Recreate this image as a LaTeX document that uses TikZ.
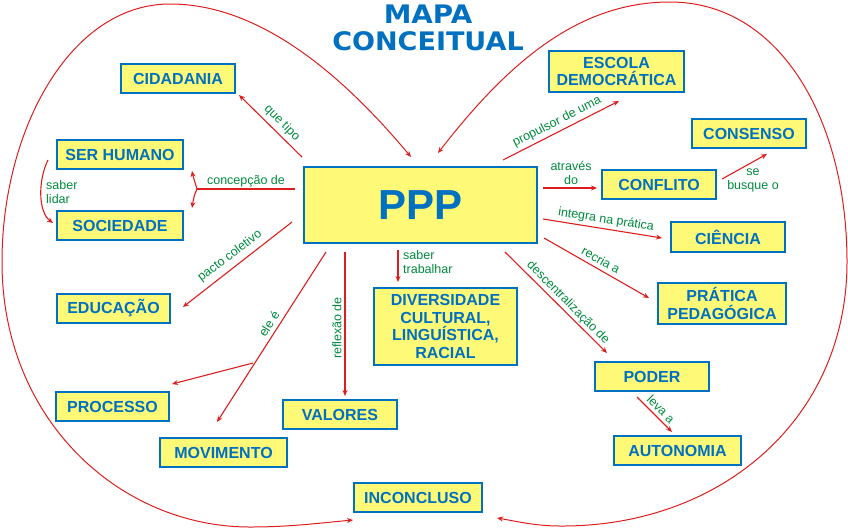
\documentclass[tikz,border=0pt]{standalone}
\usepackage{fontspec}
\usepackage{graphicx}
\setmainfont{Liberation Sans}
\newfontfamily\titlefont{DejaVu Sans}
\usetikzlibrary{arrows.meta}
\definecolor{boxfill}{RGB}{255,249,120}
\definecolor{boxblue}{RGB}{0,112,192}
\definecolor{linered}{RGB}{221,30,30}
\definecolor{lblgreen}{RGB}{0,138,62}
\begin{document}
\begin{tikzpicture}[x=1pt,y=-1pt,
  box/.style={draw=boxblue, fill=boxfill, line width=1.2pt, text=boxblue,
    font=\fontsize{16}{17.5}\selectfont\bfseries, align=center, inner sep=0pt},
  conn/.style={draw=linered, line width=1.1pt, -{Stealth[length=6pt,width=5pt]}},
  plain/.style={draw=linered, line width=1.1pt},
  loop/.style={draw=linered, line width=1pt, {Stealth[length=6pt,width=5pt]}-{Stealth[length=6pt,width=5pt]}},
  lbl/.style={text=lblgreen, font=\fontsize{12.5}{14}\selectfont, inner sep=0pt, align=center},
  ttl/.style={text=boxblue, font=\titlefont\fontsize{25.5}{27}\selectfont\bfseries, inner sep=0pt}
]
\useasboundingbox (0,0) rectangle (848,528);

% title
\node[ttl] (t1) at (428,14) {\scalebox{1.09}[1]{MAPA}};
\node[ttl] (t2) at (428,41) {\scalebox{1.06}[1]{CONCEITUAL}};

% boxes
\node[box, minimum width=114pt, minimum height=29pt] (cid) at (178,78.5) {CIDADANIA};
\node[box, minimum width=126pt, minimum height=29pt] (ser) at (120,154.5) {SER HUMANO};
\node[box, minimum width=126pt, minimum height=29pt] (soc) at (120,225.5) {SOCIEDADE};
\node[box, minimum width=233pt, minimum height=76pt, font=\fontsize{42}{44}\selectfont\bfseries] (ppp) at (420.5,205) {PPP};
\node[box, minimum width=135pt, minimum height=41pt] (esc) at (616.5,71.5) {ESCOLA\\DEMOCRÁTICA};
\node[box, minimum width=114pt, minimum height=29pt] (cons) at (749,133.5) {CONSENSO};
\node[box, minimum width=114pt, minimum height=29pt] (conf) at (659,184.5) {CONFLITO};
\node[box, minimum width=114pt, minimum height=30pt] (cie) at (728,237) {CIÊNCIA};
\node[box, minimum width=113pt, minimum height=29pt] (edu) at (113.5,308.5) {EDUCAÇÃO};
\node[box, minimum width=113pt, minimum height=29pt] (proc) at (112.5,406.5) {PROCESSO};
\node[box, minimum width=127pt, minimum height=29pt] (mov) at (223.5,452.5) {MOVIMENTO};
\node[box, minimum width=114pt, minimum height=29pt] (val) at (340,414.5) {VALORES};
\node[box, minimum width=128pt, minimum height=29pt] (inc) at (418,497.5) {INCONCLUSO};
\node[box, minimum width=143pt, minimum height=77pt] (div) at (445.5,326.5) {DIVERSIDADE\\CULTURAL,\\LINGUÍSTICA,\\RACIAL};
\node[box, minimum width=128pt, minimum height=41pt] (prat) at (722,303.5) {PRÁTICA\\PEDAGÓGICA};
\node[box, minimum width=114pt, minimum height=29pt] (pod) at (652,376.5) {PODER};
\node[box, minimum width=127pt, minimum height=29pt] (aut) at (677.5,450.5) {AUTONOMIA};

% connector end points
\coordinate (a1s) at (302,157); \coordinate (a1e) at (239,95);
\coordinate (a2s) at (295,189); \coordinate (a2j) at (197,189);
\coordinate (a2u) at (192,171); \coordinate (a2d) at (192,208);
\coordinate (a3s) at (48,160); \coordinate (a3e) at (53,223);
\coordinate (a4s) at (292,222); \coordinate (a4e) at (183,307);
\coordinate (a5s) at (326,252); \coordinate (a5e) at (217,422);
\coordinate (a5j) at (253,363); \coordinate (a5p) at (172,384);
\coordinate (a6s) at (345,252); \coordinate (a6e) at (345,396);
\coordinate (a7s) at (398,250); \coordinate (a7e) at (398,282);
\coordinate (a8s) at (505,252); \coordinate (a8e) at (607,353);
\coordinate (a9s) at (544,238); \coordinate (a9e) at (649,298);
\coordinate (a10s) at (543,219); \coordinate (a10e) at (662,238);
\coordinate (a11s) at (543,188); \coordinate (a11e) at (597,188);
\coordinate (a12s) at (722,179); \coordinate (a12e) at (767,154);
\coordinate (a13s) at (503,160); \coordinate (a13e) at (619,101);
\coordinate (a14s) at (637,397); \coordinate (a14e) at (672,432);
% loop end points
\coordinate (lls) at (411,157); \coordinate (lle) at (353,520);
\coordinate (rls) at (438,153); \coordinate (rle) at (497,518);

% connectors
\draw[conn] (a1s) -- (a1e);
\draw[plain] (a2s) -- (a2j);
\draw[conn] (a2j) .. controls (194,182) .. (a2u);
\draw[conn] (a2j) .. controls (194,196) .. (a2d);
\draw[conn] (a3s) .. controls (38,180) and (38,212) .. (a3e);
\draw[conn] (a4s) -- (a4e);
\draw[conn] (a5s) -- (a5e);
\draw[conn] (a5j) -- (a5p);
\draw[conn] (a6s) -- (a6e);
\draw[conn] (a7s) -- (a7e);
\draw[conn] (a8s) -- (a8e);
\draw[conn] (a9s) -- (a9e);
\draw[conn] (a10s) -- (a10e);
\draw[conn] (a11s) -- (a11e);
\draw[conn] (a12s) -- (a12e);
\draw[conn] (a13s) -- (a13e);
\draw[conn] (a14s) -- (a14e);

% big loops
\draw[loop] (lls) .. controls (330,60) and (250,4) .. (170,4)
  .. controls (70,4) and (2,130) .. (2,262)
  .. controls (2,420) and (120,527) .. (250,527)
  .. controls (290,527) and (320,523) .. (lle);
\draw[loop] (rls) .. controls (510,60) and (580,2) .. (670,2)
  .. controls (780,2) and (847,120) .. (847,262)
  .. controls (847,420) and (720,527) .. (560,526)
  .. controls (535,526) and (515,521) .. (rle);

% labels
\node[lbl, rotate=-45] (l1) at (282,123) {que tipo};
\node[lbl] (l2) at (246,181) {concepção de};
\node[lbl, anchor=west, align=left] (l3) at (46,192) {saber\\lidar};
\node[lbl, rotate=37] (l4) at (230,256) {pacto coletivo};
\node[lbl, rotate=57] (l5) at (269,324) {ele é};
\node[lbl, rotate=90] (l6) at (337,328) {reflexão de};
\node[lbl, anchor=west, align=left] (l7) at (403,262) {saber\\trabalhar};
\node[lbl, rotate=-45] (l8) at (568,303) {descentralização de};
\node[lbl, rotate=-29.5] (l9) at (601,260) {recria a};
\node[lbl, rotate=-9] (l10) at (606,220) {integra na prática};
\node[lbl] (l11) at (571,173) {através\\do};
\node[lbl] (l12) at (753,180) {se\\busque o};
\node[lbl, rotate=27] (l13) at (557,122) {propulsor de uma};
\node[lbl, rotate=-45] (l14) at (661,409) {leva a};
\end{tikzpicture}
\end{document}
